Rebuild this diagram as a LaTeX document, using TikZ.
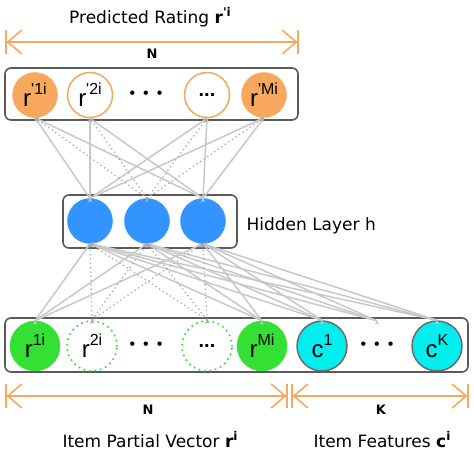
\documentclass[tikz,border=0pt]{standalone}
\usepackage{fontspec}
\setmainfont{DejaVu Sans}
\newfontfamily\unitfont{Liberation Sans}
\usetikzlibrary{arrows.meta}

\definecolor{ratingorange}{RGB}{247,168,92}
\definecolor{partgreen}{RGB}{51,224,51}
\definecolor{featcyan}{RGB}{0,238,238}
\definecolor{hiddenblue}{RGB}{51,148,255}
\definecolor{boxgray}{RGB}{90,90,90}
\definecolor{wiregray}{RGB}{200,200,200}

% letter with a raised index, as printed inside the units
\newcommand{\unitlabel}[2]{{\fontsize{24}{24}\selectfont #1}%
  \raisebox{12pt}{\fontsize{16}{16}\selectfont #2}}
\newcommand{\unitdots}{{\fontsize{16}{16}\selectfont
  \textbullet\hspace{8pt}\textbullet\hspace{8pt}\textbullet}}

\begin{document}
\begin{tikzpicture}[x=1pt, y=-1pt,
    unit/.style={circle, minimum size=45pt, inner sep=0pt, font=\unitfont},
    bigunit/.style={unit, minimum size=50pt},
    outfull/.style={unit, fill=ratingorange, draw=ratingorange},
    outhollow/.style={unit, fill=white, draw=ratingorange, line width=1.5pt},
    hidunit/.style={unit, fill=hiddenblue, draw=hiddenblue},
    infull/.style={bigunit, fill=partgreen, draw=partgreen},
    inmissing/.style={bigunit, draw=partgreen, line width=2.3pt,
      line cap=round, dash pattern=on 0pt off 5.5pt},
    featunit/.style={bigunit, fill=featcyan, draw=boxgray!90, line width=1.5pt},
    layerbox/.style={draw=boxgray, line width=1.6pt, rounded corners=6pt},
    wire/.style={draw=wiregray, line width=1.5pt,
      -{Stealth[length=4pt, width=4.5pt]}},
    dotwire/.style={draw=wiregray!85!black, line width=1.3pt,
      dash pattern=on 1.3pt off 3pt, -{Stealth[length=4pt, width=4.5pt]}},
    dimline/.style={draw=ratingorange, line width=1.6pt,
      arrows={{Bar[width=24pt]Straight Barb[length=14pt, width=24pt]}-{Straight Barb[length=14pt, width=24pt]Bar[width=24pt]}}},
    caption/.style={font=\fontsize{17}{17}\selectfont},
    dimlabel/.style={font=\bfseries\fontsize{13}{13}\selectfont}]
  \useasboundingbox (0,0) rectangle (474,451);
  % ---------- predicted rating (output layer) ----------
  \node[caption] (outtitle) at (150,17)
    {Predicted Rating \textbf{r}\raisebox{7pt}{\fontsize{12}{12}\selectfont\textbf{\textquotesingle i}}};
  \draw[dimline] (5,42) -- (299,42);
  \node[dimlabel] (outn) at (152,54) {N};
  \draw[layerbox] (5,68) rectangle (298,120);
  \node[outfull] (t1) at (35,95) {\unitlabel{r}{\textquotesingle 1i}};
  \node[outhollow] (t2) at (90,95) {\unitlabel{r}{\textquotesingle 2i}};
  \node[unit] (tdots) at (146,95) {\unitdots};
  \node[outhollow] (t3) at (207,95) {\fontsize{20}{20}\selectfont\textbf{...}};
  \node[outfull] (t4) at (264,95) {\unitlabel{r}{\textquotesingle Mi}};
  % ---------- hidden layer ----------
  \draw[layerbox] (63,195) rectangle (237,248);
  \node[hidunit] (h1) at (90,221) {};
  \node[hidunit] (h2) at (147,221) {};
  \node[hidunit] (h3) at (203,221) {};
  \node[caption, anchor=west] (hidtitle) at (243,226) {Hidden Layer h};
  % ---------- input: partial vector and item features ----------
  \draw[layerbox] (5,318) rectangle (468,372);
  \node[infull] (b1) at (35,346) {\unitlabel{r}{1i}};
  \node[inmissing] (b2) at (92,346) {\unitlabel{r}{2i}};
  \node[bigunit] (bdots) at (146,346) {\unitdots};
  \node[inmissing] (b3) at (207,346) {\fontsize{20}{20}\selectfont\textbf{...}};
  \node[infull] (b4) at (262,346) {\unitlabel{r}{Mi}};
  \node[featunit] (c1) at (322,346) {\unitlabel{c}{1}};
  \node[bigunit] (cdots) at (377,346) {\unitdots};
  \node[featunit] (c2) at (437,346) {\unitlabel{c}{K}};
  % ---------- hidden -> output ----------
  \draw[wire] (h1.north) edge (t1.south) edge (t2.south)
    edge (t3.south) edge (t4.south);
  \draw[wire] (h3.north) edge (t1.south) edge (t2.south)
    edge (t3.south) edge (t4.south);
  \draw[dotwire] (h2.north) edge (t1.south) edge (t2.south)
    edge (t3.south) edge (t4.south);
  % ---------- input -> hidden ----------
  \draw[wire] (b1.north) edge (h1.south) edge (h2.south) edge (h3.south);
  \draw[wire] (b4.north) edge (h1.south) edge (h2.south) edge (h3.south);
  \draw[wire] (c1.north) edge (h1.south) edge (h2.south) edge (h3.south);
  \draw[wire] (cdots.north) edge (h1.south) edge (h2.south) edge (h3.south);
  \draw[wire] (c2.north) edge (h1.south) edge (h2.south) edge (h3.south);
  \draw[dotwire] (b2.north) edge (h1.south) edge (h2.south) edge (h3.south);
  \draw[dotwire] (b3.north) edge (h1.south) edge (h2.south) edge (h3.south);
  % ---------- input sizes and captions ----------
  \draw[dimline] (5,396) -- (288,396);
  \draw[dimline] (291,396) -- (469,396);
  \node[dimlabel] (inn) at (148,410) {N};
  \node[dimlabel] (ink) at (381,410) {K};
  \node[caption] (intitle) at (150,440)
    {Item Partial Vector \textbf{r}\raisebox{7pt}{\fontsize{12}{12}\selectfont\textbf{i}}};
  \node[caption] (feattitle) at (382,440)
    {Item Features \textbf{c}\raisebox{7pt}{\fontsize{12}{12}\selectfont\textbf{i}}};
\end{tikzpicture}
\end{document}
